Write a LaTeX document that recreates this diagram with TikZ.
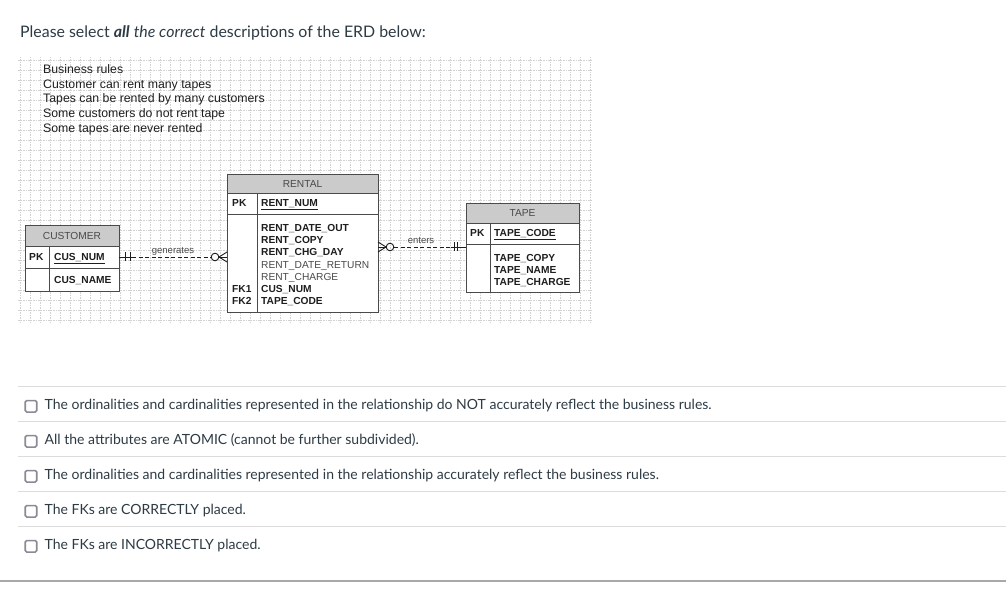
\documentclass[tikz,border=0pt]{standalone}
\usepackage{fontspec}
\setmainfont{Lato}
\newfontfamily\erdfont{Liberation Sans}
\usetikzlibrary{calc}
\definecolor{canvastext}{HTML}{2D3B45}
\definecolor{sepline}{HTML}{DCDCDC}
\definecolor{botline}{HTML}{A8A8A8}
\definecolor{chkbox}{HTML}{8A8A96}
\definecolor{gridline}{HTML}{D2D2D2}
\definecolor{hdrfill}{HTML}{CBCBCB}
\definecolor{boxline}{HTML}{4A4A4A}
\definecolor{erdtext}{HTML}{1E1E1E}
\definecolor{erdsoft}{HTML}{4A4A4A}
\tikzset{
  pagetext/.style={font=\fontsize{14}{16}\selectfont, text=canvastext, inner sep=0pt, anchor=base west},
  chk/.style={draw=chkbox, line width=1.6pt, rounded corners=1.5pt, minimum width=11.5pt, minimum height=11.5pt, inner sep=0pt},
  rulesty/.style={font=\erdfont\fontsize{12.3}{14}\selectfont, text=erdtext, inner sep=0pt, anchor=base west},
  hdr/.style={draw=boxline, fill=hdrfill, line width=0.9pt, inner sep=0pt, outer sep=0pt, anchor=north west, font=\erdfont\fontsize{10.2}{12}\selectfont, text=erdsoft},
  row/.style={draw=boxline, fill=white, line width=0.9pt, inner sep=0pt, outer sep=0pt, anchor=north west},
  battr/.style={font=\erdfont\bfseries\fontsize{10.2}{12}\selectfont, text=erdtext, inner sep=0pt, anchor=base west},
  rattr/.style={font=\erdfont\fontsize{10.2}{12}\selectfont, text=erdsoft, inner sep=0pt, anchor=base west},
  rel/.style={draw=erdtext, line width=0.9pt, dash pattern=on 4pt off 2.5pt},
  relsolid/.style={draw=erdtext, line width=0.9pt},
  rellab/.style={font=\erdfont\fontsize{9.5}{10}\selectfont, text=erdsoft, inner sep=0pt, anchor=base},
}
\begin{document}
\begin{tikzpicture}[x=1pt,y=-1pt]
\useasboundingbox (0,0) rectangle (1006,612);
\fill[white] (0,0) rectangle (1006,612);

% title
\node[pagetext, font=\fontsize{15.9}{18}\selectfont] (title) at (20,37.3) {Please select \textbf{\textit{all}} \textit{the correct} descriptions of the ERD below:};

% grid background
\begin{scope}
\clip (18,57) rectangle (592,323);
\foreach \gx in {20,30,...,590} \draw[gridline, line width=0.4pt, dash pattern=on 1.5pt off 1pt] (\gx,57) -- (\gx,323);
\foreach \gy in {60,70,...,320} \draw[gridline, line width=0.4pt, dash pattern=on 1.5pt off 1pt] (18,\gy) -- (592,\gy);
\end{scope}

% business rules
\node[rulesty] (br1) at (43,73.5) {Business rules};
\node[rulesty] (br2) at (43,88.2) {Customer can rent many tapes};
\node[rulesty] (br3) at (43,102.9) {Tapes can be rented by many customers};
\node[rulesty] (br4) at (43,117.6) {Some customers do not rent tape};
\node[rulesty] (br5) at (43,132.3) {Some tapes are never rented};

% CUSTOMER
\node[hdr, minimum width=94pt, minimum height=21pt] (custH) at (25,225) {CUSTOMER};
\node[row, minimum width=94pt, minimum height=22pt] (custP) at (25,246) {};
\node[row, minimum width=94pt, minimum height=23pt] (custA) at (25,268) {};
\draw[boxline, line width=0.9pt] (49.5,246) -- (49.5,291);
\node[battr] (custPK) at (29,260.6) {PK};
\node[battr] (custNum) at (54,260.6) {\underline{CUS\_NUM}};
\node[battr] (custName) at (54,283.4) {CUS\_NAME};

% RENTAL
\node[hdr, minimum width=151pt, minimum height=19pt] (rentH) at (227,174) {RENTAL};
\node[row, minimum width=151pt, minimum height=21pt] (rentP) at (227,193) {};
\node[row, minimum width=151pt, minimum height=98pt] (rentA) at (227,214) {};
\draw[boxline, line width=0.9pt] (257.5,193) -- (257.5,312);
\node[battr] (rentPK) at (232,207) {PK};
\node[battr] (rentNum) at (261,207) {\underline{RENT\_NUM}};
\node[battr] (ra1) at (261,231.8) {RENT\_DATE\_OUT};
\node[battr] (ra2) at (261,243.8) {RENT\_COPY};
\node[battr] (ra3) at (261,255.9) {RENT\_CHG\_DAY};
\node[rattr] (ra4) at (261,268.1) {RENT\_DATE\_RETURN};
\node[rattr] (ra5) at (261,280.3) {RENT\_CHARGE};
\node[battr] (ra6) at (261,292.2) {CUS\_NUM};
\node[battr] (ra7) at (261,304.6) {TAPE\_CODE};
\node[battr] (rfk1) at (232,292.2) {FK1};
\node[battr] (rfk2) at (232,304.6) {FK2};

% TAPE
\node[hdr, minimum width=113pt, minimum height=20pt] (tapeH) at (466,203) {TAPE};
\node[row, minimum width=113pt, minimum height=21pt] (tapeP) at (466,223) {};
\node[row, minimum width=113pt, minimum height=48pt] (tapeA) at (466,244) {};
\draw[boxline, line width=0.9pt] (490.5,223) -- (490.5,292);
\node[battr] (tapePK) at (470,237) {PK};
\node[battr] (tapeCode) at (494,237) {\underline{TAPE\_CODE}};
\node[battr] (ta1) at (494,261.5) {TAPE\_COPY};
\node[battr] (ta2) at (494,273.6) {TAPE\_NAME};
\node[battr] (ta3) at (494,285.6) {TAPE\_CHARGE};

% relationship: generates
\coordinate (gC) at (custP.east);
\coordinate (gR) at (rentA.west |- gC);
\draw[rel] ($(gC)+(13,0)$) -- ($(gR)+(-16,0)$);
\draw[relsolid] (gC) -- ++(14,0);
\draw[relsolid] ($(gC)+(6.5,-4.5)$) -- ++(0,9);
\draw[relsolid] ($(gC)+(11,-4.5)$) -- ++(0,9);
\draw[relsolid] ($(gR)+(-12,0)$) circle (3.8);
\draw[relsolid] ($(gR)+(-8,0)$) -- (gR);
\draw[relsolid] ($(gR)+(-8,0)$) -- ($(gR)+(0,-5)$);
\draw[relsolid] ($(gR)+(-8,0)$) -- ($(gR)+(0,5)$);
\node[rellab] (genLab) at (173,254) {generates};

% relationship: enters
\coordinate (eR) at ($(rentA.north east)+(0,33)$);
\coordinate (eT) at (tapeA.west |- eR);
\draw[rel] ($(eR)+(16,0)$) -- ($(eT)+(-13,0)$);
\draw[relsolid] ($(eT)+(-15,0)$) -- (eT);
\draw[relsolid] ($(eT)+(-12,-4.5)$) -- ++(0,9);
\draw[relsolid] ($(eT)+(-8.5,-4.5)$) -- ++(0,9);
\draw[relsolid] ($(eR)+(12,0)$) circle (3.8);
\draw[relsolid] ($(eR)+(8,0)$) -- (eR);
\draw[relsolid] ($(eR)+(8,0)$) -- ($(eR)+(0,-5)$);
\draw[relsolid] ($(eR)+(8,0)$) -- ($(eR)+(0,5)$);
\node[rellab] (entLab) at (421,244) {enters};

% answer options
\foreach \ly in {386.5,421.5,456.5,491.5,526.5} \draw[sepline, line width=1pt] (18,\ly) -- (1006,\ly);
\draw[botline, line width=1.5pt] (0,581) -- (1006,581);

\node[chk] (c1) at (31,406.3) {};
\node[chk] (c2) at (31,441.3) {};
\node[chk] (c3) at (31,476.3) {};
\node[chk] (c4) at (31,511.3) {};
\node[chk] (c5) at (31,546.3) {};
\node[pagetext] (o1) at (44.5,409.5) {The ordinalities and cardinalities represented in the relationship do NOT accurately reflect the business rules.};
\node[pagetext] (o2) at (44.5,444.5) {All the attributes are ATOMIC (cannot be further subdivided).};
\node[pagetext] (o3) at (44.5,479.5) {The ordinalities and cardinalities represented in the relationship accurately reflect the business rules.};
\node[pagetext] (o4) at (44.5,514.5) {The FKs are CORRECTLY placed.};
\node[pagetext] (o5) at (44.5,549.5) {The FKs are INCORRECTLY placed.};
\end{tikzpicture}
\end{document}
